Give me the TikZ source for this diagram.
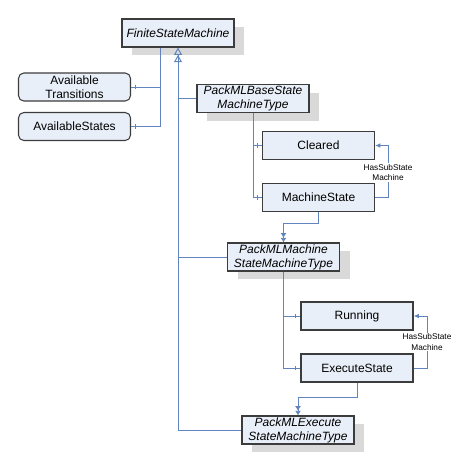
\documentclass[tikz,border=0pt]{standalone}
\usepackage{fontspec}
\setmainfont{Liberation Sans}
\usetikzlibrary{arrows.meta}
\usetikzlibrary{decorations.markings}
\usetikzlibrary{shadows}
\definecolor{boxfill}{RGB}{233,239,248}
\definecolor{boxline}{RGB}{60,60,60}
\definecolor{refline}{RGB}{98,132,190}
\definecolor{shadowgray}{RGB}{217,217,217}

\begin{document}
\begin{tikzpicture}[x=0.75pt, y=-0.75pt,
    box/.style={draw=boxline, line width=0.8pt, fill=boxfill, minimum width=84pt, minimum height=21pt,
      inner sep=1pt, align=center, font=\fontsize{9}{10.5}\selectfont},
    typebox/.style={box, font=\fontsize{9}{10.5}\selectfont\itshape,
      drop shadow={shadow xshift=7.5pt, shadow yshift=-6pt, fill=shadowgray, opacity=1}},
    varbox/.style={box, rounded corners=4pt},
    ref/.style={draw=refline, line width=0.75pt},
    compref/.style={ref, postaction={decorate}, decoration={markings,
      mark=at position -3.5pt with {\draw[refline, line width=0.6pt] (0,-1.8pt) -- (0,1.8pt);}}},
    subtype/.style={ref, {Triangle[open, length=5.5pt, width=6pt]Triangle[open, length=5.5pt, width=6pt]}-},
    typedef/.style={ref, -{Latex[length=3.5pt, width=4.5pt]Latex[length=3.5pt, width=4.5pt]}},
    subsm/.style={ref, -{Latex[length=4pt, width=3.5pt]}},
    reflabel/.style={fill=white, inner sep=1pt, align=center, font=\fontsize{6.2}{7.6}\selectfont}]
    \useasboundingbox (0, 0) rectangle (474, 472);

    % types
    \node [typebox] (fsm) at (178, 33) {FiniteStateMachine};
    \node [typebox] (base) at (253, 98.5) {PackMLBaseState\\MachineType};
    \node [typebox] (pmsm) at (283.5, 257) {PackMLMachine\\StateMachineType};
    \node [typebox] (pesm) at (298, 430) {PackMLExecute\\StateMachineType};

    % variables
    \node [varbox] (avtr) at (74.5, 87) {Available\\Transitions};
    \node [varbox] (avst) at (74.5, 126.5) {AvailableStates};

    % objects
    \node [box] (cleared) at (318.5, 145.5) {Cleared};
    \node [box] (machst) at (318.5, 197.5) {MachineState};
    \node [box] (running) at (357, 316) {Running};
    \node [box] (execst) at (357, 368) {ExecuteState};

    % subtypes
    \draw [subtype] (fsm.south) -- (fsm.south |- pesm.west) -- (pesm.west);
    \draw [ref] (fsm.south |- base.west) -- (base.west);
    \draw [ref] (fsm.south |- pmsm.west) -- (pmsm.west);

    % components
    \draw [compref] (fsm.south) ++(-18, 0) |- (avtr.east);
    \draw [compref] (fsm.south) ++(-18, 0) |- (avst.east);
    \draw [compref] (base.south) |- (cleared.west);
    \draw [compref] (base.south) |- (machst.west);
    \draw [compref] (pmsm.south) |- (running.west);
    \draw [compref] (pmsm.south) |- (execst.west);

    % sub state machines
    \draw [subsm] (machst.east) -- ++(13, 0) |- (cleared.east);
    \node [reflabel] (lab1) at (388, 172.5) {HasSubState\\Machine};
    \draw [subsm] (execst.east) -- ++(14, 0) |- (running.east);
    \node [reflabel] (lab2) at (427, 342) {HasSubState\\Machine};

    % type definitions
    \draw [typedef] (machst.south) -- ++(0, 11) -| (pmsm.north);
    \draw [typedef] (execst.south) -- ++(0, 15) -| (pesm.north);
\end{tikzpicture}
\end{document}
